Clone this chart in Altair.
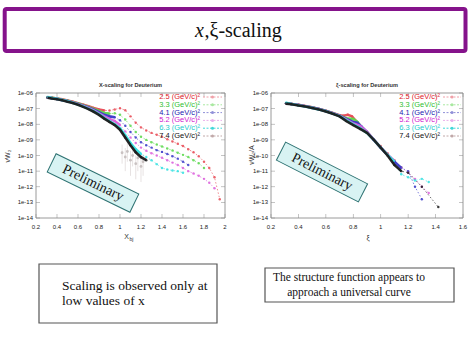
import altair as alt
import pandas as pd

W, H = 474, 355
SANS = "Liberation Sans"
SERIF = "Liberation Serif"

# ---------------- data ----------------
SERIES = ["2.5", "3.3", "4.1", "5.2", "6.3", "7.4"]
LEGEND_LABELS = ["2.5 (GeV/c)²", "3.3 (GeV/c)²", "4.1 (GeV/c)²",
                 "5.2 (GeV/c)²", "6.3 (GeV/c)²", "7.4 (GeV/c)²"]
LINE_COLORS = ["#e84a55", "#5cd84e", "#3a3ac8", "#dc62dc", "#33e0e0", "#1a1a1a"]
TEXT_COLORS = ["#e0202a", "#30c030", "#2020b0", "#d020d0", "#20cccc", "#111111"]
SAMPLE_COLORS = ["#f0a0a8", "#a8e8a0", "#9090d8", "#eab0ea", "#40d8d8", "#c0a8a8"]

XB_TICKS = [0.2, 0.4, 0.6, 0.8, 1.0, 1.2, 1.4, 1.6, 1.8, 2.0]
XI_TICKS = [0.2, 0.4, 0.6, 0.8, 1.0, 1.2, 1.4, 1.6]
Y_TICKS = [1e-14, 1e-13, 1e-12, 1e-11, 1e-10, 1e-09, 1e-08, 1e-07, 1e-06]
Y_LABELS = ["1e-14", "1e-13", "1e-12", "1e-11", "1e-10", "1e-09", "1e-08", "1e-07", "1e-06"]

# left panel: x_bj scaling
XB_25 = [0.31, 0.35, 0.40, 0.45, 0.50, 0.55, 0.60, 0.65, 0.70, 0.75, 0.80, 0.85, 0.90, 0.95,
         1.00, 1.05, 1.10, 1.15, 1.20, 1.25, 1.30, 1.35, 1.40, 1.45, 1.50, 1.55, 1.60, 1.65,
         1.70, 1.75, 1.80, 1.85, 1.90, 1.95]
W_25 = [5.4e-7, 5.0e-7, 4.5e-7, 3.9e-7, 3.3e-7, 2.75e-7, 2.2e-7, 1.8e-7, 1.4e-7, 1.1e-7,
        8.9e-8, 7.6e-8, 7.6e-8, 8.9e-8, 1.05e-7, 7.9e-8, 3.2e-8, 1.26e-8, 6.3e-9, 4.0e-9,
        2.8e-9, 2.1e-9, 1.6e-9, 1.1e-9, 7.9e-10, 5.6e-10, 4.0e-10, 2.5e-10, 1.6e-10,
        8.9e-11, 4.0e-11, 1.6e-11, 4.0e-12, 1.6e-13]
XB_33 = [0.31, 0.35, 0.40, 0.45, 0.50, 0.55, 0.60, 0.65, 0.70, 0.75, 0.80, 0.85, 0.90, 0.95,
         1.00, 1.05, 1.10, 1.15, 1.20, 1.25, 1.30, 1.35, 1.40, 1.45, 1.50, 1.55, 1.60, 1.65,
         1.70, 1.75, 1.80]
W_33 = [5.4e-7, 4.9e-7, 4.4e-7, 3.7e-7, 3.2e-7, 2.6e-7, 2.1e-7, 1.66e-7, 1.26e-7, 9.5e-8,
        7.1e-8, 5.2e-8, 4.8e-8, 5.0e-8, 4.0e-8, 2.0e-8, 7.9e-9, 3.2e-9, 1.6e-9, 1.0e-9,
        7.1e-10, 5.0e-10, 3.8e-10, 2.8e-10, 2.1e-10, 1.5e-10, 1.1e-10, 7.9e-11, 5.0e-11,
        3.2e-11, 1.6e-11]
XB_41 = [0.31, 0.35, 0.40, 0.45, 0.50, 0.55, 0.60, 0.65, 0.70, 0.75, 0.80, 0.85, 0.90, 0.95,
         1.00, 1.05, 1.10, 1.15, 1.20, 1.25, 1.30, 1.35, 1.40, 1.45, 1.50, 1.55, 1.60, 1.65]
W_41 = [5.2e-7, 4.8e-7, 4.3e-7, 3.6e-7, 3.1e-7, 2.5e-7, 2.0e-7, 1.55e-7, 1.17e-7, 8.5e-8,
        6.0e-8, 4.0e-8, 3.2e-8, 2.8e-8, 1.8e-8, 7.9e-9, 3.2e-9, 1.4e-9, 7.1e-10, 4.5e-10,
        3.2e-10, 2.2e-10, 1.7e-10, 1.26e-10, 8.9e-11, 6.3e-11, 4.0e-11, 2.5e-11]
XB_52 = [0.31, 0.35, 0.40, 0.45, 0.50, 0.55, 0.60, 0.65, 0.70, 0.75, 0.80, 0.85, 0.90, 0.95,
         1.00, 1.05, 1.10, 1.15, 1.20, 1.25, 1.30, 1.35, 1.40, 1.45, 1.50, 1.55, 1.60, 1.65,
         1.70, 1.75, 1.80, 1.85, 1.90]
W_52 = [5.2e-7, 4.7e-7, 4.2e-7, 3.5e-7, 3.0e-7, 2.45e-7, 1.9e-7, 1.48e-7, 1.1e-7, 7.6e-8,
        5.0e-8, 3.2e-8, 2.2e-8, 1.6e-8, 8.9e-9, 3.5e-9, 1.4e-9, 6.3e-10, 3.2e-10, 2.0e-10,
        1.4e-10, 1.0e-10, 7.1e-11, 5.0e-11, 3.5e-11, 2.5e-11, 1.6e-11, 1.0e-11, 7.1e-12,
        5.0e-12, 3.2e-12, 1.8e-12, 7.9e-13]
XB_63 = [0.31, 0.35, 0.40, 0.45, 0.50, 0.55, 0.60, 0.65, 0.70, 0.75, 0.80, 0.85, 0.90, 0.95,
         1.00, 1.05, 1.10, 1.15, 1.20, 1.25, 1.30, 1.35, 1.40, 1.45, 1.50, 1.55, 1.60]
W_63 = [5.6e-7, 4.7e-7, 4.2e-7, 3.5e-7, 2.95e-7, 2.4e-7, 1.8e-7, 1.38e-7, 1.0e-7, 6.9e-8,
        4.5e-8, 2.6e-8, 1.6e-8, 1.0e-8, 5.6e-9, 2.0e-9, 6.3e-10, 2.5e-10, 1.26e-10, 7.9e-11,
        5.0e-11, 2.8e-11, 1.6e-11, 1.26e-11, 1.1e-11, 1.0e-11, 7.9e-12]
XB_74 = [0.31, 0.35, 0.40, 0.45, 0.50, 0.55, 0.60, 0.65, 0.70, 0.75, 0.80, 0.85, 0.90, 0.95,
         1.00, 1.05, 1.10, 1.15, 1.20, 1.25]
W_74 = [5.0e-7, 4.5e-7, 4.0e-7, 3.4e-7, 2.8e-7, 2.3e-7, 1.75e-7, 1.3e-7, 9.3e-8, 6.3e-8,
        4.0e-8, 2.3e-8, 1.4e-8, 8.9e-9, 4.5e-9, 1.4e-9, 4.5e-10, 1.6e-10, 7.9e-11, 5.0e-11]
# where each series stops being a dense band and becomes sparse dotted points
CORE_END_XB = [0.85, 0.90, 0.95, 1.00, 1.20, 1.25]
# scattered high-x 7.4 points with error bars (left panel)
G_X = [1.02, 1.05, 1.07, 1.10, 1.12, 1.15, 1.17, 1.20, 1.22]
G_Y = [1.5e-10, 8e-11, 1.8e-10, 5e-11, 1.0e-10, 3e-11, 7e-11, 2e-11, 4e-11]
G_LO = [3e-11, 1e-11, 4e-11, 5e-12, 2e-11, 3e-12, 1e-11, 2e-12, 5e-12]
G_HI = [5e-10, 3e-10, 6e-10, 2e-10, 3e-10, 1e-10, 2e-10, 8e-11, 1.2e-10]

# right panel: xi scaling
XI_25 = [0.31, 0.35, 0.40, 0.45, 0.50, 0.55, 0.60, 0.65, 0.70, 0.73, 0.76, 0.79, 0.82, 0.85,
         0.90, 0.95, 1.00, 1.05, 1.10]
V_25 = [2.2e-7, 2.0e-7, 1.75e-7, 1.45e-7, 1.2e-7, 9.5e-8, 7.2e-8, 5.2e-8, 3.8e-8, 3.5e-8,
        4.0e-8, 3.2e-8, 1.6e-8, 7.9e-9, 3.2e-9, 1.1e-9, 4.0e-10, 1.4e-10, 5.0e-11]
XI_33 = [0.31, 0.35, 0.40, 0.45, 0.50, 0.55, 0.60, 0.65, 0.70, 0.75, 0.80, 0.83, 0.86, 0.90,
         0.95, 1.00, 1.05, 1.10, 1.15]
V_33 = [2.2e-7, 2.0e-7, 1.7e-7, 1.4e-7, 1.17e-7, 9.3e-8, 7.1e-8, 5.1e-8, 3.5e-8, 2.4e-8,
        2.2e-8, 1.4e-8, 6.3e-9, 2.8e-9, 1.0e-9, 3.2e-10, 1.1e-10, 4.5e-11, 1.8e-11]
XI_41 = [0.31, 0.35, 0.40, 0.45, 0.50, 0.55, 0.60, 0.65, 0.70, 0.75, 0.80, 0.83, 0.86, 0.90,
         0.95, 1.00, 1.05, 1.10, 1.15, 1.20, 1.25, 1.30]
V_41 = [2.2e-7, 2.0e-7, 1.7e-7, 1.4e-7, 1.17e-7, 9.3e-8, 7.1e-8, 5.0e-8, 3.5e-8, 2.2e-8,
        1.4e-8, 1.26e-8, 7.1e-9, 3.2e-9, 1.0e-9, 3.2e-10, 1.1e-10, 4.0e-11, 1.6e-11, 1.0e-11,
        1.0e-12, 1.6e-13]
XI_52 = [0.31, 0.35, 0.40, 0.45, 0.50, 0.55, 0.60, 0.65, 0.70, 0.75, 0.80, 0.85, 0.90, 0.95,
         1.00, 1.05, 1.10, 1.15, 1.20, 1.25, 1.30, 1.35]
V_52 = [2.2e-7, 2.0e-7, 1.7e-7, 1.4e-7, 1.15e-7, 9.1e-8, 6.9e-8, 4.9e-8, 3.4e-8, 2.0e-8,
        1.1e-8, 7.9e-9, 3.2e-9, 1.0e-9, 3.2e-10, 1.1e-10, 4.5e-11, 1.8e-11, 7.9e-12, 3.2e-12,
        1.0e-12, 4.0e-13]
XI_63 = [0.31, 0.35, 0.40, 0.45, 0.50, 0.55, 0.60, 0.65, 0.70, 0.75, 0.80, 0.85, 0.90, 0.95,
         1.00, 1.05, 1.10, 1.15, 1.20, 1.25, 1.30, 1.35]
V_63 = [2.4e-7, 2.0e-7, 1.66e-7, 1.38e-7, 1.12e-7, 8.9e-8, 6.8e-8, 4.8e-8, 3.3e-8, 1.8e-8,
        1.0e-8, 5.6e-9, 2.8e-9, 1.0e-9, 3.2e-10, 1.1e-10, 4.0e-11, 6.3e-12, 4.0e-12, 2.5e-12,
        3.2e-12, 2.0e-12]
XI_74 = [0.31, 0.35, 0.40, 0.45, 0.50, 0.55, 0.60, 0.65, 0.70, 0.75, 0.80, 0.85, 0.90, 0.95,
         1.00, 1.05, 1.10, 1.15, 1.20, 1.30, 1.42]
V_74 = [2.1e-7, 1.9e-7, 1.6e-7, 1.35e-7, 1.1e-7, 8.7e-8, 6.6e-8, 4.7e-8, 3.2e-8, 1.6e-8,
        8.9e-9, 5.0e-9, 2.8e-9, 1.0e-9, 3.2e-10, 1.0e-10, 2.5e-11, 1.0e-11, 7.9e-12, 1.0e-12,
        5.0e-14]
CORE_END_XI = [0.85, 0.90, 1.15, 1.10, 1.10, 1.15]

# ---------------- layout constants ----------------
LX0, LX1 = 36, 225
RX0, RX1 = 271, 463
PY0, PY1 = 93, 218
LEG_Y0, LEG_DY = 97, 7.8


def series_frame(xs_list, ys_list, core_end):
    rows = []
    for s, c, xs, ys, ce in zip(SERIES, LINE_COLORS, xs_list, ys_list, core_end):
        for x, y in zip(xs, ys):
            rows.append({"series": s, "color": c, "x": x, "y": y, "core": x <= ce + 1e-9})
    return pd.DataFrame(rows)


ONE = pd.DataFrame({"k": [0]})


def txt(text, x, y, **kw):
    return alt.Chart(ONE).mark_text(text=text, **kw).encode(x=alt.value(x), y=alt.value(y))


def box(x0, x1, y0, y1, **kw):
    return alt.Chart(ONE).mark_rect(**kw).encode(
        x=alt.value(x0), x2=alt.value(x1), y=alt.value(y0), y2=alt.value(y1))


def panel(df, xdom, x0, x1, xticks, extra=None):
    xs = alt.Scale(domain=xdom, range=[x0, x1], nice=False, zero=False)
    ys = alt.Scale(type="log", domain=[1e-14, 1e-6], range=[PY1, PY0], nice=False)
    frame = box(x0, x1, PY0, PY1, fill="white", stroke="#9a9a9a", strokeWidth=1)
    base = alt.Chart(df)
    thin = base.mark_line(strokeWidth=0.8, strokeDash=[1.5, 2], opacity=0.8).encode(
        x=alt.X("x:Q", scale=xs, axis=None),
        y=alt.Y("y:Q", scale=ys, axis=None),
        color=alt.Color("color:N", scale=None),
        detail="series:N")
    pts = base.mark_circle(size=6, opacity=0.85).encode(
        x=alt.X("x:Q", axis=None), y=alt.Y("y:Q", axis=None),
        color=alt.Color("color:N", scale=None))
    core = base.transform_filter("datum.core").mark_line(strokeWidth=2.6, opacity=0.95).encode(
        x=alt.X("x:Q", axis=None), y=alt.Y("y:Q", axis=None),
        color=alt.Color("color:N", scale=None), detail="series:N")
    tx = pd.DataFrame({"t": xticks})
    ty = pd.DataFrame({"t": Y_TICKS, "lab": Y_LABELS})
    tk = dict(size=4, thickness=0.7, color="#888")
    ticks = [
        alt.Chart(tx).mark_tick(**tk).encode(x=alt.X("t:Q", axis=None), y=alt.value(PY1 - 2)),
        alt.Chart(tx).mark_tick(**tk).encode(x=alt.X("t:Q", axis=None), y=alt.value(PY0 + 2)),
        alt.Chart(ty).mark_tick(**tk).encode(y=alt.Y("t:Q", axis=None), x=alt.value(x0 + 2)),
        alt.Chart(ty).mark_tick(**tk).encode(y=alt.Y("t:Q", axis=None), x=alt.value(x1 - 2)),
        alt.Chart(tx).mark_text(font=SANS, fontSize=6, color="#222", baseline="middle").encode(
            x=alt.X("t:Q", axis=None), y=alt.value(PY1 + 9),
            text=alt.Text("t:Q", format="~g")),
        alt.Chart(ty).mark_text(font=SANS, fontSize=6, color="#222", align="right",
                                baseline="middle").encode(
            y=alt.Y("t:Q", axis=None), x=alt.value(x0 - 3), text="lab:N"),
    ]
    layers = [frame] + (extra or []) + [thin, pts, core] + ticks
    return alt.layer(*layers)


left_df = series_frame([XB_25, XB_33, XB_41, XB_52, XB_63, XB_74],
                       [W_25, W_33, W_41, W_52, W_63, W_74], CORE_END_XB)
right_df = series_frame([XI_25, XI_33, XI_41, XI_52, XI_63, XI_74],
                        [V_25, V_33, V_41, V_52, V_63, V_74], CORE_END_XI)

ghost_df = pd.DataFrame({"x": G_X, "y": G_Y, "lo": G_LO, "hi": G_HI})
ghost = [
    alt.Chart(ghost_df).mark_rule(color="#dcd6d6", strokeWidth=0.7).encode(
        x=alt.X("x:Q", axis=None), y=alt.Y("lo:Q", axis=None), y2="hi:Q"),
    alt.Chart(ghost_df).mark_circle(size=8, color="#c4bcbc", opacity=0.9).encode(
        x=alt.X("x:Q", axis=None), y=alt.Y("y:Q", axis=None)),
]

left_panel = panel(left_df, [0.2, 2.0], LX0, LX1, XB_TICKS, ghost)
right_panel = panel(right_df, [0.2, 1.6], RX0, RX1, XI_TICKS)

leg_df = pd.DataFrame({"label": LEGEND_LABELS, "tc": TEXT_COLORS, "sc": SAMPLE_COLORS,
                       "row": list(range(len(SERIES)))})


def legend(x_text, xs0, xs1):
    ys = alt.Scale(domain=[0, 5], range=[LEG_Y0, LEG_Y0 + 5 * LEG_DY])
    b = alt.Chart(leg_df)
    t = b.mark_text(align="right", baseline="middle", font=SANS, fontSize=7.5).encode(
        x=alt.value(x_text), y=alt.Y("row:Q", scale=ys, axis=None), text="label:N",
        color=alt.Color("tc:N", scale=None))
    r = b.mark_rule(strokeWidth=1, strokeDash=[2, 1.5]).encode(
        x=alt.value(xs0), x2=alt.value(xs1), y=alt.Y("row:Q", axis=None),
        color=alt.Color("sc:N", scale=None))
    d = b.mark_circle(size=9, opacity=1).encode(
        x=alt.value((xs0 + xs1) / 2), y=alt.Y("row:Q", axis=None),
        color=alt.Color("sc:N", scale=None))
    return alt.layer(t, r, d)


PREL_PATH = "M-1,-0.22L1,-0.22L1,0.22L-1,0.22Z"


def prelim(cx, cy, angle):
    shape = alt.Chart(ONE).mark_point(shape=PREL_PATH, size=8464, angle=angle, filled=True,
                                      fill="#d8f3f3", stroke="#2e7272", strokeWidth=1,
                                      opacity=1).encode(x=alt.value(cx), y=alt.value(cy))
    label = txt("Preliminary", cx, cy, angle=angle, font=SERIF, fontSize=14,
                color="#111", align="center", baseline="middle")
    return [shape, label]


layers = [
    # title box
    box(4.7, 465.5, 9, 51, fill="white", stroke="#85138b", strokeWidth=4, cornerRadius=2),
    txt("x", 204, 37, font=SERIF, fontSize=20, fontStyle="italic", align="right",
        baseline="alphabetic", color="#111"),
    txt(",ξ-scaling", 204.5, 37, font=SERIF, fontSize=20, align="left",
        baseline="alphabetic", color="#111"),
    # panels
    left_panel,
    right_panel,
    legend(200, 203, 222),
    legend(440, 443, 461),
    # panel titles
    txt("X-scaling for Deuterium", (LX0 + LX1) / 2, 85, font=SANS, fontSize=5.6,
        fontWeight="bold", color="#333"),
    txt("ξ-scaling for Deuterium", (RX0 + RX1) / 2, 85, font=SANS, fontSize=5.6,
        fontWeight="bold", color="#333"),
    # axis titles
    txt("νW₂", 8, 156, font=SANS, fontSize=7, angle=270, color="#333"),
    txt("νW₂/A", 252, 155, font=SANS, fontSize=7, angle=270, color="#333"),
    txt("X", 129, 237, font=SANS, fontSize=7, align="right", color="#333"),
    txt("bj", 129.5, 239, font=SANS, fontSize=5, align="left", color="#333"),
    txt("ξ", 368, 238, font=SANS, fontSize=7, color="#333"),
] + prelim(93, 183, 26) + prelim(322, 172, 27) + [
    # bottom text boxes
    box(39, 217, 264, 323, fill="white", stroke="#555", strokeWidth=1.2),
    txt("Scaling is observed only at", 62, 290, font=SERIF, fontSize=13.5, align="left",
        baseline="alphabetic", color="#111"),
    txt("low values of x", 62, 305, font=SERIF, fontSize=13.5, align="left",
        baseline="alphabetic", color="#111"),
    box(265, 454, 268, 302, fill="white", stroke="#555", strokeWidth=1.2),
    txt("The structure function appears to", 349, 281, font=SERIF, fontSize=11.5,
        align="center", baseline="alphabetic", color="#111"),
    txt("approach a universal curve", 349, 296, font=SERIF, fontSize=11.5,
        align="center", baseline="alphabetic", color="#111"),
]

chart = alt.layer(*layers).resolve_scale(x="independent", y="independent").properties(
    width=W, height=H, padding=0, background="white",
    autosize=alt.AutoSizeParams(type="none"),
).configure_view(stroke=None)

chart.save("out.html", embed_options={"renderer": "svg", "actions": False})
